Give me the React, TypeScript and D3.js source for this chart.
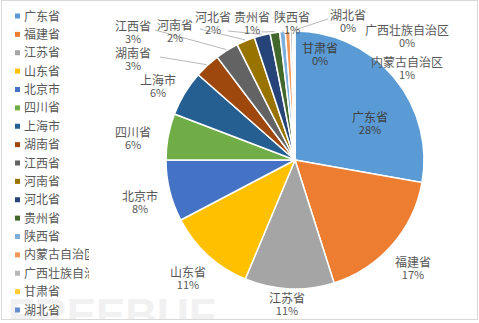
import React, { useEffect, useRef } from 'react';
import * as d3 from 'd3';

const provinces = ['广东省', '福建省', '江苏省', '山东省', '北京市', '四川省', '上海市', '湖南省', '江西省', '河南省', '河北省', '贵州省', '陕西省', '内蒙古自治区', '广西壮族自治区', '甘肃省', '湖北省'];
const shares = [27.8, 17.3, 11.2, 11.0, 7.7, 5.8, 5.7, 3.2, 2.9, 2.3, 2.0, 1.2, 0.7, 0.6, 0.3, 0.15, 0.15];
const colors = ['#5B9BD5', '#ED7D31', '#A5A5A5', '#FFC000', '#4472C4', '#70AD47', '#255E91', '#9E480E', '#636363', '#997300', '#264478', '#43682B', '#7CAFDD', '#F1975A', '#B7B7B7', '#FFCD33', '#698ED0'];

// label spots (centre of the name line), picked by hand like Excel's best fit
const labelAt: [number, number][] = [
  [370, 117], [413, 262], [287, 298], [188, 272], [140, 196], [133, 132], [158, 80],
  [133, 53], [133, 26], [175, 25], [213, 17], [252, 17], [292, 17],
  [407, 62], [407, 30], [320, 48], [348, 15]
];
// where a leader line leaves the label, if it has one
const leaderFrom: ([number, number] | null)[] = [
  null, null, null, null, null, null, null,
  [160, 57], [155, 30], [200, 29], [228, 31], [262, 32], [284, 33],
  null, null, null, [328, 19]
];

export default function App() {
  const ref = useRef<HTMLDivElement>(null);

  useEffect(() => {
    if (!ref.current) return;
    d3.select(ref.current).selectAll('*').remove();

    const W = 479, H = 323;
    const cx = 295, cy = 160, r = 129;
    const font = '"Noto Sans CJK SC", "Microsoft YaHei", sans-serif';

    const svg = d3.select(ref.current)
      .append('svg')
      .attr('width', W)
      .attr('height', H)
      .style('position', 'fixed')
      .style('left', 0)
      .style('top', 0)
      .style('background', '#fff');

    // 1) FRAME + WATERMARK
    svg.append('clipPath').attr('id', 'frame')
      .append('rect').attr('x', 1.5).attr('y', 0.5).attr('width', 476).attr('height', 319);

    svg.append('text')
      .attr('clip-path', 'url(#frame)')
      .attr('x', 8).attr('y', 330)
      .attr('font-family', 'Arial, "Liberation Sans", sans-serif')
      .attr('font-weight', 'bold')
      .attr('font-size', 44)
      .attr('fill', '#f1f1f1')
      .text('FREEBUF');

    svg.append('rect')
      .attr('x', 1.5).attr('y', 0.5).attr('width', 476).attr('height', 319)
      .attr('fill', 'none')
      .attr('stroke', '#d9d9d9');

    // 2) PIE SLICES
    const data = provinces.map((p, i) => ({ name: p, value: shares[i], i }));
    const total = d3.sum(shares);
    const pie = d3.pie<{ name: string; value: number; i: number }>()
      .sort(null)
      .value(d => d.value);
    const arcs = pie(data);
    const arc = d3.arc<d3.PieArcDatum<any>>().innerRadius(0).outerRadius(r);

    const g = svg.append('g').attr('transform', `translate(${cx},${cy})`);
    g.selectAll('path')
      .data(arcs)
      .enter()
      .append('path')
      .attr('d', arc as any)
      .attr('fill', d => colors[d.data.i])
      .attr('stroke', '#fff')
      .attr('stroke-width', 1.5);

    // 3) LEADER LINES
    arcs.forEach(a => {
      const from = leaderFrom[a.data.i];
      if (!from) return;
      const mid = (a.startAngle + a.endAngle) / 2;
      const tx = cx + (r + 1) * Math.sin(mid);
      const ty = cy - (r + 1) * Math.cos(mid);
      svg.append('line')
        .attr('x1', from[0]).attr('y1', from[1])
        .attr('x2', tx).attr('y2', ty)
        .attr('stroke', '#a6a6a6')
        .attr('stroke-width', 0.8);
    });

    // 4) DATA LABELS
    arcs.forEach(a => {
      const [lx, ly] = labelAt[a.data.i];
      const inside = a.data.i === 0 || a.data.i === 15;
      const fill = inside ? '#404040' : '#595959';
      svg.append('text')
        .attr('x', lx).attr('y', ly + 4.5)
        .attr('text-anchor', 'middle')
        .attr('font-family', font)
        .attr('font-size', 12)
        .attr('fill', fill)
        .text(a.data.name);
      svg.append('text')
        .attr('x', lx).attr('y', ly + 17)
        .attr('text-anchor', 'middle')
        .attr('font-family', font)
        .attr('font-size', 11)
        .attr('fill', fill)
        .text(`${Math.round(a.data.value / total * 100)}%`);
    });

    // 5) LEGEND
    svg.append('clipPath').attr('id', 'legendClip')
      .append('rect').attr('x', 0).attr('y', 0).attr('width', 89).attr('height', H);
    const ly = d3.scalePoint<string>().domain(provinces).range([16, 310]);
    const legend = svg.append('g').attr('clip-path', 'url(#legendClip)');
    provinces.forEach((p, i) => {
      const y = ly(p) || 0;
      legend.append('rect')
        .attr('x', 15).attr('y', y - 2.5)
        .attr('width', 5).attr('height', 5)
        .attr('fill', colors[i]);
      legend.append('text')
        .attr('x', 24).attr('y', y + 4.5)
        .attr('font-family', font)
        .attr('font-size', 12)
        .attr('fill', '#595959')
        .text(p);
    });
  }, []);

  return <div ref={ref} />;
}
